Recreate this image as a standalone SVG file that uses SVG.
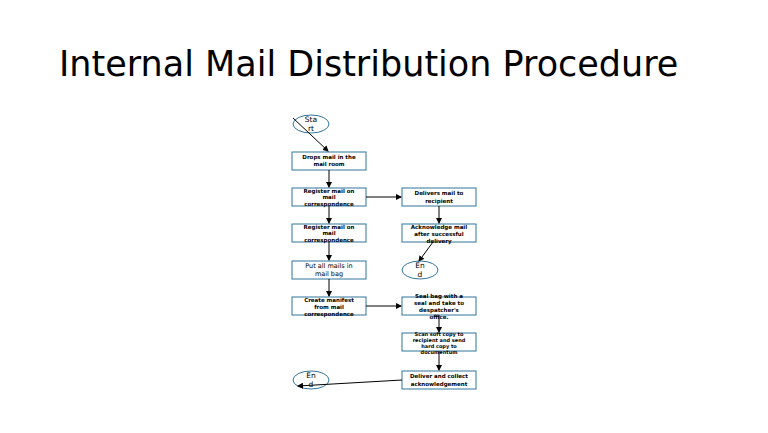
<svg xmlns="http://www.w3.org/2000/svg" width="768" height="433" viewBox="0 0 768 433">
<defs><marker id="a" markerWidth="6" markerHeight="6" refX="5" refY="3" orient="auto"><path d="M0,0L6,3L0,6z" fill="#000"/></marker>
<style>.b{fill:#fff;stroke:#31759b;stroke-width:1}.t{font-family:"DejaVu Sans",sans-serif;font-size:5.5px;text-anchor:middle;fill:#000;font-weight:bold}.e{font-size:7.5px;font-weight:normal}.s{font-size:5px}.p{font-size:6.5px;font-weight:normal}.c{stroke:#000;stroke-width:1;fill:none;marker-end:url(#a)}</style></defs>
<rect width="768" height="433" fill="#fff"/>
<text x="59" y="76" font-family="DejaVu Sans,sans-serif" font-size="35" fill="#000">Internal Mail Distribution Procedure</text>
<g id="start"><ellipse class="b" cx="311" cy="124" rx="18" ry="9"/><text class="t e" x="311" y="122">Sta</text><text class="t e" x="311" y="131">rt</text></g>
<g id="n1"><rect class="b" x="292" y="152" width="74" height="18"/><text class="t" x="329" y="159">Drops mail in the</text><text class="t" x="329" y="166">mail room</text></g>
<g id="n2"><rect class="b" x="292" y="188" width="74" height="18"/><text class="t" x="329" y="193">Register mail on</text><text class="t" x="329" y="199">mail</text><text class="t" x="329" y="206">correspondence</text></g>
<g id="n3"><rect class="b" x="292" y="224" width="74" height="18"/><text class="t" x="329" y="229">Register mail on</text><text class="t" x="329" y="235">mail</text><text class="t" x="329" y="242">correspondence</text></g>
<g id="n4"><rect class="b" x="292" y="261" width="74" height="18"/><text class="t p" x="329" y="268">Put all mails in</text><text class="t p" x="329" y="276">mail bag</text></g>
<g id="n5"><rect class="b" x="292" y="297" width="74" height="18"/><text class="t" x="329" y="302">Create manifest</text><text class="t" x="329" y="309">from mail</text><text class="t" x="329" y="316">correspondence</text></g>
<g id="r1"><rect class="b" x="402" y="188" width="74" height="18"/><text class="t" x="439" y="195">Delivers mail to</text><text class="t" x="439" y="203">recipient</text></g>
<g id="r2"><rect class="b" x="402" y="224" width="74" height="18"/><text class="t" x="439" y="229">Acknowledge mail</text><text class="t" x="439" y="236">after successful</text><text class="t" x="439" y="243">delivery</text></g>
<g id="end1"><ellipse class="b" cx="420" cy="270" rx="18" ry="9"/><text class="t e" x="420" y="268">En</text><text class="t e" x="420" y="277">d</text></g>
<g id="r3"><rect class="b" x="402" y="297" width="74" height="18"/><text class="t" x="439" y="298">Seal bag with a</text><text class="t" x="439" y="305">seal and take to</text><text class="t" x="439" y="312">despatcher's</text><text class="t" x="439" y="319">office.</text></g>
<g id="r4"><rect class="b" x="402" y="333" width="74" height="18"/><text class="t s" x="439" y="336">Scan soft copy to</text><text class="t s" x="439" y="342">recipient and send</text><text class="t s" x="439" y="348">hard copy to</text><text class="t s" x="439" y="354">documentum</text></g>
<g id="r5"><rect class="b" x="402" y="371" width="74" height="18"/><text class="t" x="439" y="378">Deliver and collect</text><text class="t" x="439" y="386">acknowledgement</text></g>
<g id="end2"><ellipse class="b" cx="311" cy="380" rx="18" ry="9"/><text class="t e" x="311" y="378">En</text><text class="t e" x="311" y="387">d</text></g>
<g id="connectors">
<path class="c" d="M293,118L328,151"/>
<path class="c" d="M329,170L329,187"/>
<path class="c" d="M329,206L329,223"/>
<path class="c" d="M329,242L329,260"/>
<path class="c" d="M329,279L329,296"/>
<path class="c" d="M366,197L401,197"/>
<path class="c" d="M366,306L401,306"/>
<path class="c" d="M439,206L439,223"/>
<path class="c" d="M433,242L419,261"/>
<path class="c" d="M439,315L439,332"/>
<path class="c" d="M439,351L439,370"/>
<path class="c" d="M402,380L298,386"/>
</g>
</svg>
